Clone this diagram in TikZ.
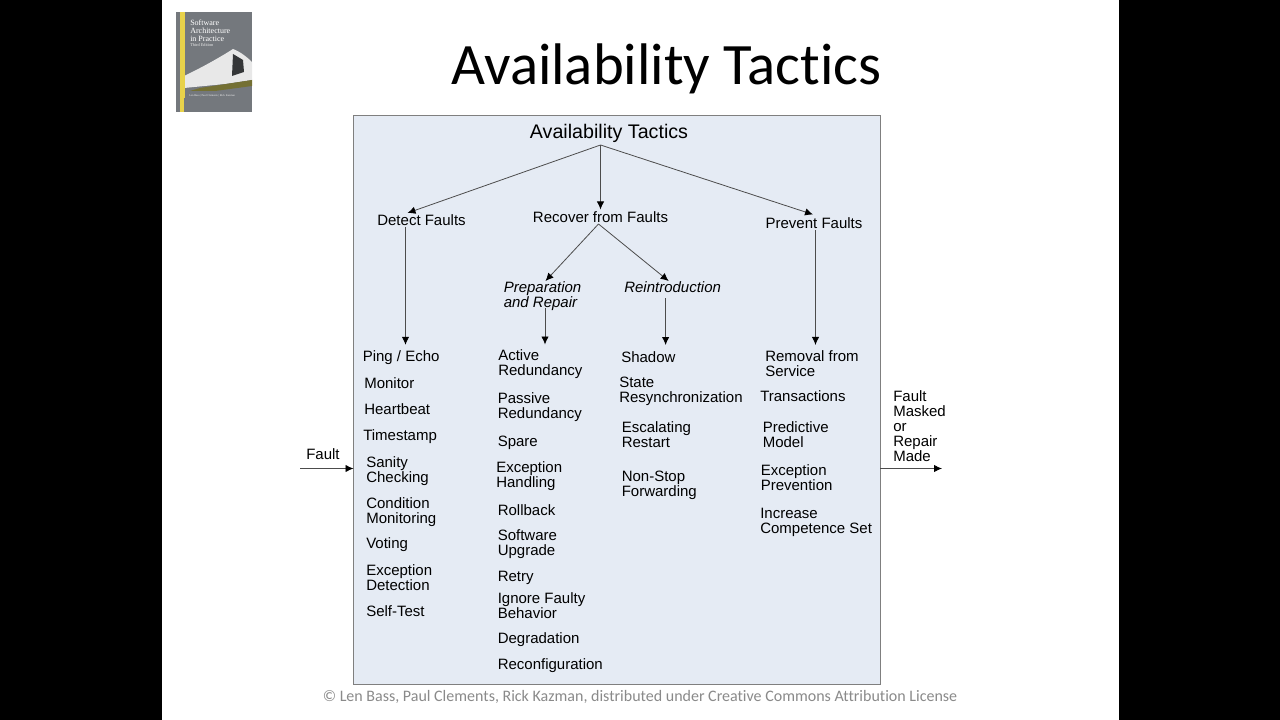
\documentclass[tikz,border=0pt]{standalone}
\usepackage{fontspec}
\setmainfont{Liberation Sans}
\newfontfamily\calib[Ligatures=NoCommon]{Carlito}
\newfontfamily\bookf{Liberation Serif}
\usetikzlibrary{arrows.meta}
\definecolor{panel}{HTML}{E5EBF4}
\definecolor{frameg}{HTML}{7F7F7F}
\definecolor{foot}{HTML}{8A8A8A}
\definecolor{cover}{HTML}{74787D}
\definecolor{stripe}{HTML}{E8D24A}
\tikzset{
  lbl/.style={anchor=west,inner sep=0pt,align=left,font=\fontsize{11.25}{11.25}\selectfont,text=black},
  ilbl/.style={lbl,font=\fontsize{11.25}{11.25}\selectfont\itshape},
  head/.style={anchor=center,inner sep=0pt,font=\fontsize{11.25}{11.25}\selectfont,text=black},
  arr/.style={draw=black!70,line width=0.6pt,-{Latex[length=6pt,width=5.5pt,black]}},
}
\begin{document}
\begin{tikzpicture}[x=0.75pt,y=-0.75pt]
\useasboundingbox (0,0) rectangle (1280,720);
\fill[white] (0,0) rectangle (1280,720);
\fill[black] (0,0) rectangle (162,720);
\fill[black] (1119,0) rectangle (1280,720);
% book cover
\fill[cover] (176,12) rectangle (252,112);
\fill[white!82!gray] (184,76) .. controls (205,66) and (222,56) .. (233,49) .. controls (241,52) and (248,58) .. (252,62) -- (252,80) -- (225,84) -- (184,88) -- cycle;
\fill[cover!45!black] (233,54) -- (243,60) -- (244,72) -- (232,76) -- cycle;
\fill[black!30!olive!80!gray] (200,88) -- (252,80) -- (252,86) -- (215,91) -- (190,91) -- cycle;
\fill[stripe] (180,12) rectangle (185,98);
\fill[stripe] (180,98) rectangle (184,112);
\node[anchor=north west,inner sep=0pt,text=white,align=left,font=\fontsize{6}{6}\selectfont\bookf] (book) at (190,19.5) {Software\\Architecture\\in Practice};
\node[anchor=north west,inner sep=0pt,text=white!85!gray,font=\fontsize{3.2}{4}\selectfont\bookf] (bookb) at (190,43.5) {Third Edition};
\node[anchor=west,inner sep=0pt,text=white!85!gray,font=\fontsize{2.1}{3}\selectfont\bookf] (bookc) at (189,96) {Len Bass | Paul Clements | Rick Kazman};
% title
\node[anchor=center,inner sep=0pt,font=\fontsize{44}{46}\selectfont\calib] (title) at (666.5,69) {Availability Tactics};
% panel
\node[draw=frameg,fill=panel,line width=0.75pt,outer sep=0pt,minimum width=526.5*0.75pt,minimum height=569*0.75pt,inner sep=0pt,anchor=north west] (panelbox) at (353.5,115.5) {};
% headers
\node[head,font=\fontsize{14.75}{16}\selectfont] (root) at (609,133.5) {Availability Tactics};
\node[head] (det) at (421.5,220) {Detect Faults};
\node[head] (rec) at (600.5,217) {Recover from Faults};
\node[head] (pre) at (814,223) {Prevent Faults};
\node[ilbl,anchor=north west] (prep) at (503.5,281.5) {Preparation\\and Repair};
\node[ilbl] (rein) at (624,287) {Reintroduction};
% column 1
\node[lbl] (a1) at (362.5,357.5) {Ping / Echo};
\node[lbl] (a2) at (364,383) {Monitor};
\node[lbl] (a3) at (364,409) {Heartbeat};
\node[lbl] (a4) at (363,437) {Timestamp};
\node[lbl] (a5) at (366,471.5) {Sanity\\Checking};
\node[lbl] (a6) at (366,512.5) {Condition\\Monitoring};
\node[lbl] (a7) at (366,544.5) {Voting};
\node[lbl] (a8) at (366,578) {Exception\\Detection};
\node[lbl] (a9) at (366,611) {Self-Test};
% column 2
\node[lbl] (b1) at (498,364.5) {Active\\Redundancy};
\node[lbl] (b2) at (497.5,407) {Passive\\Redundancy};
\node[lbl] (b3) at (497.5,442.5) {Spare};
\node[lbl] (b4) at (496,476) {Exception\\Handling};
\node[lbl] (b5) at (497.5,510.5) {Rollback};
\node[lbl] (b6) at (497.5,544.5) {Software\\Upgrade};
\node[lbl] (b7) at (497.5,577.5) {Retry};
\node[lbl] (b8) at (497.5,605.5) {Ignore Faulty\\Behavior};
\node[lbl] (b9) at (497.5,639.5) {Degradation};
\node[lbl] (b10) at (497.5,665.5) {Reconfiguration};
% column 3
\node[lbl] (c1) at (621,357) {Shadow};
\node[lbl] (c2) at (619,391) {State\\Resynchronization};
\node[lbl] (c3) at (621.5,435) {Escalating\\Restart};
\node[lbl] (c4) at (621.5,485.5) {Non-Stop\\Forwarding};
% column 4
\node[lbl] (d1) at (765,363.5) {Removal from\\Service};
\node[lbl] (d2) at (760,396.5) {Transactions};
\node[lbl] (d3) at (762.5,435) {Predictive\\Model};
\node[lbl] (d4) at (760.5,478) {Exception\\Prevention};
\node[lbl] (d5) at (760,522) {Increase\\Competence Set};
% fault in / out
\node[lbl] (fin) at (306,454.5) {Fault};
\node[lbl] (fout) at (893,426) {Fault\\Masked\\or\\Repair\\Made};
\coordinate (finS) at (300,468.5);
\coordinate (foutE) at (942,468.5);
% connectors (offsets from node anchors, in picture pixels)
\coordinate (hub) at ([shift={(-8.5,11.5)}]root.center);
\coordinate (fork) at ([shift={(-2,7)}]rec.center);
\coordinate (detS) at ([shift={(-16,7)}]det.center);
\coordinate (prepS) at ([shift={(41.5,26.5)}]prep.north west);
\coordinate (reinS) at ([shift={(-7,11)}]rein.center);
\coordinate (preS) at ([shift={(1.5,7.5)}]pre.center);
\draw[arr] (hub) -- ([shift={(-14,-7)}]det.center);
\draw[arr] (hub) -- ([shift={(0,-7.5)}]rec.center);
\draw[arr] (hub) -- ([shift={(-1,-8.5)}]pre.center);
\draw[arr] (fork) -- ([shift={(42,-0.5)}]prep.north west);
\draw[arr] (fork) -- ([shift={(-4,-6)}]rein.center);
\draw[arr] (detS) -- ([yshift=9.5pt]detS |- a1.west);
\draw[arr] (prepS) -- ([yshift=15pt]prepS |- b1.west);
\draw[arr] (reinS) -- ([yshift=9pt]reinS |- c1.west);
\draw[arr] (preS) -- ([yshift=13.9pt]preS |- d1.west);
\draw[arr] (finS) -- (panelbox.west |- finS);
\draw[arr] (panelbox.east |- foutE) -- (foutE);
% footer
\node[anchor=center,inner sep=0pt,text=foot,font=\fontsize{12}{14}\selectfont\calib] (footer) at (640,696.5) {© Len Bass, Paul Clements, Rick Kazman, distributed under Creative Commons Attribution License};
\end{tikzpicture}
\end{document}
